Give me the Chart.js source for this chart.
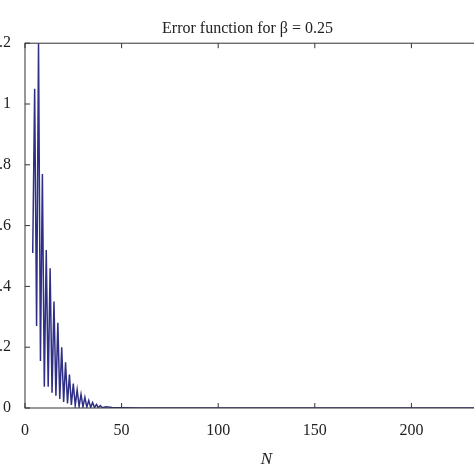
<!DOCTYPE html>
<html><head><script src="https://cdn.jsdelivr.net/npm/chart.js@4"></script>
<style>html,body{margin:0;padding:0;overflow:hidden;background:#fff}#w{position:absolute;left:-15px;top:0;width:540px;height:474px}</style></head>
<body><div id="w"><canvas id="c"></canvas></div>
<script>
const nValues = [4,5,6,7,8,9,10,11,12,13,14,15,16,17,18,19,20,21,22,23,24,25,26,27,28,29,30,31,32,33,34,35,36,37,38,39,40,42,45,50,60,100,150,200,250];
const errValues = [0.51,1.05,0.27,1.2,0.155,0.77,0.07,0.52,0.07,0.46,0.05,0.35,0.04,0.28,0.03,0.2,0.02,0.15,0.015,0.11,0.01,0.08,0.008,0.06,0.005,0.045,0.004,0.035,0.003,0.025,0.002,0.018,0.0015,0.012,0.001,0.008,0.0008,0.004,0.002,0.001,0,0,0,0,0];
const xTicks = [0,50,100,150,200,250];
const yTicks = [0,0.2,0.4,0.6,0.8,1,1.2];
const serif = '"Liberation Serif","DejaVu Serif",serif';
const inTicks = {id:'inTicks',afterDraw(ch){const c=ch.ctx,a=ch.chartArea,x=ch.scales.x,y=ch.scales.y;c.save();c.strokeStyle='#333';c.lineWidth=1;
 c.strokeRect(a.left,a.top,a.right-a.left,a.bottom-a.top);c.beginPath();
 xTicks.forEach(v=>{const p=x.getPixelForValue(v);c.moveTo(p,a.bottom);c.lineTo(p,a.bottom-5);c.moveTo(p,a.top);c.lineTo(p,a.top+5);});
 yTicks.forEach(v=>{const p=y.getPixelForValue(v);c.moveTo(a.left,p);c.lineTo(a.left+5,p);c.moveTo(a.right,p);c.lineTo(a.right-5,p);});
 c.stroke();c.restore();}};
new Chart(document.getElementById('c'),{type:'line',
 data:{datasets:[{data:nValues.map((n,i)=>({x:n,y:errValues[i]})),borderColor:'#2f2f86',borderWidth:1.5,pointRadius:0,tension:0}]},
 options:{responsive:true,maintainAspectRatio:false,animation:false,
  layout:{padding:{right:15,top:0}},
  plugins:{legend:{display:false},tooltip:{enabled:false},
   title:{display:true,text:'Error function for β = 0.25',color:'#222',font:{family:serif,size:16,weight:'normal'},padding:{top:19,bottom:5}}},
  scales:{
   x:{type:'linear',min:0,max:250,afterBuildTicks(s){s.ticks=xTicks.map(v=>({value:v}));},
    afterFit(s){s.height=66;},
    grid:{display:false},border:{display:false},
    ticks:{color:'#222',font:{family:serif,size:16},padding:5,maxRotation:0},
    title:{display:true,text:'N',color:'#222',font:{family:serif,size:17,style:'italic'},padding:{top:0}}},
   y:{min:0,max:1.2,afterBuildTicks(s){s.ticks=yTicks.map(v=>({value:v}));},
    afterFit(s){s.width=40;},
    grid:{display:false},border:{display:false},
    ticks:{color:'#222',font:{family:serif,size:16},padding:6,callback:v=>String(Math.round(v*10)/10)}}}},
 plugins:[inTicks]});
</script></body></html>
